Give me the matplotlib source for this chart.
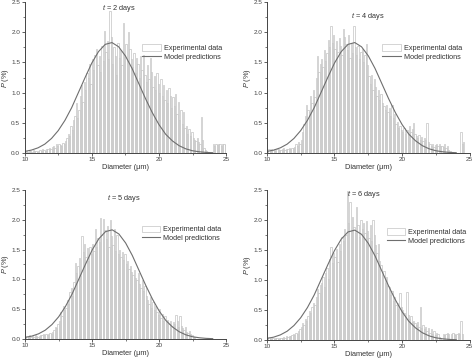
import numpy as np
import matplotlib
matplotlib.use("Agg")
import matplotlib.pyplot as plt

plt.rcParams['font.family'] = ['Liberation Sans', 'DejaVu Sans']
plt.rcParams['mathtext.fontset'] = 'custom'
plt.rcParams['mathtext.rm'] = 'Liberation Sans'
plt.rcParams['mathtext.it'] = 'Liberation Sans:italic'

# bin left edges: 10.0 .. 24.9 step 0.1 um
bins = np.round(np.arange(10.0, 25.0, 0.1), 1)

p_day2 = [
    0.02, 0.03, 0.02, 0.04, 0.03, 0.02, 0.05, 0.03, 0.04, 0.02,
    0.03, 0.05, 0.04, 0.06, 0.05, 0.04, 0.07, 0.06, 0.08, 0.07,
    0.10, 0.12, 0.09, 0.14, 0.11, 0.15, 0.13, 0.12, 0.16, 0.15,
    0.20, 0.25, 0.32, 0.28, 0.45, 0.38, 0.55, 0.62, 0.83, 0.58,
    0.72, 0.95, 1.12, 0.85, 1.18, 1.05, 1.32, 1.25, 1.48, 1.15,
    1.55, 1.38, 1.62, 1.72, 1.45, 1.60, 1.35, 1.78, 1.52, 2.02,
    1.68, 1.85, 1.55, 2.35, 1.92, 1.48, 1.75, 1.60, 1.30, 1.82,
    1.58, 1.70, 1.45, 2.15, 1.62, 1.80, 1.52, 2.00, 1.72, 1.55,
    1.42, 1.65, 1.32, 1.58, 1.48, 1.25, 1.60, 1.38, 1.62, 1.30,
    1.18, 1.45, 1.22, 1.58, 1.35, 1.10, 1.28, 1.05, 1.32, 1.15,
    1.00, 1.22, 0.95, 1.12, 0.88, 1.05, 0.82, 1.08, 0.95, 0.75,
    0.92, 0.78, 0.98, 0.65, 0.85, 0.55, 0.72, 0.48, 0.68, 0.42,
    0.45, 0.32, 0.40, 0.28, 0.35, 0.25, 0.22, 0.20, 0.24, 0.18,
    0.15, 0.60, 0.22, 0.08, 0.05, 0.03, 0.00, 0.00, 0.00, 0.00,
    0.14, 0.12, 0.15, 0.13, 0.14, 0.15, 0.12, 0.14, 0.15, 0.13,
]
p_day4 = [
    0.04, 0.06, 0.05, 0.07, 0.05, 0.06, 0.04, 0.07, 0.06, 0.05,
    0.05, 0.06, 0.08, 0.05, 0.07, 0.06, 0.08, 0.07, 0.09, 0.08,
    0.10, 0.14, 0.12, 0.18, 0.15, 0.22, 0.35, 0.48, 0.62, 0.80,
    0.72, 0.68, 0.95, 0.82, 1.05, 0.92, 1.25, 1.60, 1.35, 1.48,
    1.55, 1.42, 1.70, 1.52, 1.65, 1.88, 1.75, 2.10, 1.82, 1.95,
    1.72, 1.85, 1.68, 1.90, 1.78, 1.62, 2.06, 1.92, 1.80, 1.70,
    1.95, 1.58, 1.82, 1.65, 2.10, 1.75, 1.62, 1.78, 1.55, 1.68,
    1.72, 1.50, 1.62, 1.80, 1.45, 1.28, 1.15, 1.30, 1.05, 1.22,
    1.10, 0.95, 1.05, 0.88, 0.98, 0.82, 0.78, 0.72, 0.80, 0.68,
    0.75, 0.62, 0.80, 0.58, 0.65, 0.48, 0.52, 0.42, 0.45, 0.38,
    0.35, 0.42, 0.32, 0.38, 0.30, 0.45, 0.35, 0.40, 0.50, 0.32,
    0.28, 0.25, 0.30, 0.22, 0.26, 0.20, 0.24, 0.22, 0.50, 0.18,
    0.15, 0.12, 0.14, 0.10, 0.13, 0.15, 0.12, 0.14, 0.11, 0.12,
    0.10, 0.14, 0.08, 0.12, 0.05, 0.03, 0.00, 0.00, 0.00, 0.00,
    0.00, 0.00, 0.00, 0.35, 0.15, 0.18, 0.00, 0.00, 0.00, 0.00,
]
p_day5 = [
    0.03, 0.05, 0.04, 0.06, 0.03, 0.05, 0.04, 0.06, 0.05, 0.04,
    0.05, 0.07, 0.06, 0.08, 0.06, 0.09, 0.07, 0.08, 0.10, 0.09,
    0.12, 0.15, 0.20, 0.18, 0.25, 0.30, 0.45, 0.38, 0.55, 0.48,
    0.52, 0.65, 0.58, 0.78, 0.85, 0.72, 0.95, 1.28, 1.10, 1.22,
    1.35, 1.05, 1.72, 1.45, 1.60, 1.38, 1.52, 1.30, 1.55, 1.42,
    1.60, 1.48, 1.85, 1.55, 1.70, 1.62, 2.03, 1.75, 2.02, 1.82,
    1.68, 1.90, 1.55, 2.00, 1.72, 1.58, 1.85, 1.48, 1.75, 1.42,
    1.50, 1.38, 1.45, 1.32, 1.42, 1.25, 1.30, 1.18, 1.22, 1.12,
    1.08, 1.15, 1.02, 0.98, 1.10, 0.92, 0.85, 0.98, 0.80, 0.88,
    0.72, 0.65, 0.58, 0.70, 0.52, 0.62, 0.48, 0.55, 0.45, 0.40,
    0.50, 0.35, 0.42, 0.30, 0.38, 0.28, 0.32, 0.25, 0.30, 0.22,
    0.28, 0.25, 0.40, 0.30, 0.20, 0.38, 0.22, 0.18, 0.15, 0.20,
    0.12, 0.10, 0.14, 0.08, 0.06, 0.04, 0.03, 0.00, 0.00, 0.00,
    0.00, 0.00, 0.00, 0.00, 0.00, 0.00, 0.00, 0.00, 0.00, 0.00,
    0.00, 0.00, 0.00, 0.00, 0.00, 0.00, 0.00, 0.00, 0.00, 0.00,
]
p_day6 = [
    0.03, 0.05, 0.02, 0.04, 0.03, 0.02, 0.04, 0.03, 0.02, 0.03,
    0.04, 0.03, 0.05, 0.04, 0.06, 0.05, 0.07, 0.06, 0.08, 0.10,
    0.08, 0.12, 0.10, 0.15, 0.18, 0.22, 0.28, 0.25, 0.35, 0.32,
    0.40, 0.48, 0.45, 0.55, 0.62, 0.58, 0.72, 0.85, 0.78, 0.92,
    0.95, 1.05, 0.88, 1.12, 1.20, 1.02, 1.35, 1.55, 1.28, 1.45,
    1.38, 1.52, 1.30, 1.60, 1.48, 1.72, 1.65, 1.85, 1.75, 2.48,
    1.95, 2.30, 1.82, 2.05, 1.88, 1.78, 2.22, 1.92, 1.72, 2.00,
    1.85, 1.95, 1.78, 1.98, 1.82, 1.70, 1.92, 1.65, 2.00, 1.75,
    1.58, 1.45, 1.60, 1.32, 1.25, 1.08, 1.15, 0.95, 1.05, 0.90,
    0.88, 0.75, 0.82, 0.65, 0.72, 0.58, 0.62, 0.52, 0.78, 0.55,
    0.50, 0.45, 0.38, 0.80, 0.42, 0.35, 0.40, 0.30, 0.32, 0.28,
    0.25, 0.30, 0.22, 0.55, 0.20, 0.25, 0.18, 0.22, 0.15, 0.20,
    0.12, 0.18, 0.10, 0.15, 0.08, 0.12, 0.10, 0.05, 0.03, 0.00,
    0.10, 0.08, 0.10, 0.12, 0.10, 0.00, 0.10, 0.12, 0.10, 0.08,
    0.10, 0.12, 0.10, 0.32, 0.10, 0.00, 0.00, 0.00, 0.00, 0.00,
]

# model curve (same in all panels)
model_x = [10.0, 10.5, 11.0, 11.5, 12.0, 12.5, 13.0, 13.5, 14.0, 14.5,
           15.0, 15.5, 16.0, 16.5, 17.0, 17.5, 18.0, 18.5, 19.0, 19.5,
           20.0, 20.5, 21.0, 21.5, 22.0, 22.5, 23.0, 23.5, 24.0]
model_p = [0.025, 0.047, 0.085, 0.146, 0.24, 0.37, 0.54, 0.75, 1.00, 1.25,
           1.49, 1.68, 1.80, 1.83, 1.76, 1.61, 1.40, 1.15, 0.90, 0.67,
           0.47, 0.31, 0.20, 0.12, 0.068, 0.036, 0.019, 0.009, 0.004]

days = [2, 4, 5, 6]
series = [p_day2, p_day4, p_day5, p_day6]
axes_pos = [[0.052, 0.574, 0.425, 0.420],
            [0.563, 0.574, 0.428, 0.420],
            [0.053, 0.056, 0.424, 0.415],
            [0.563, 0.053, 0.428, 0.418]]
title_xy = [(17.05, 2.40), (17.5, 2.27), (17.4, 2.35), (17.2, 2.42)]
leg_xy = [(0.585, 0.72), (0.57, 0.72), (0.58, 0.76), (0.59, 0.745)]

fig = plt.figure(figsize=(4.74, 3.59), dpi=100)
for i in range(4):
    ax = fig.add_axes(axes_pos[i])
    bars = ax.bar(bins, series[i], width=0.1, align='edge', facecolor='white',
                  edgecolor='#bcbcbc', linewidth=0.45)
    line, = ax.plot(model_x, model_p, color='#6e6e6e', lw=0.8)
    ax.set_xlim(10, 25)
    ax.set_ylim(0, 2.5)
    ax.set_xticks([10, 15, 20, 25])
    ax.set_xticks([12.5, 17.5, 22.5], minor=True)
    ax.set_yticks(np.arange(0, 2.51, 0.5))
    ax.set_yticks(np.arange(0.25, 2.5, 0.5), minor=True)
    ax.yaxis.set_major_formatter(matplotlib.ticker.FormatStrFormatter('%.1f'))
    for s in ['top', 'right']:
        ax.spines[s].set_visible(False)
    for s in ['left', 'bottom']:
        ax.spines[s].set_color('#444444')
        ax.spines[s].set_linewidth(0.7)
    ax.tick_params(which='major', length=2.2, width=0.6, labelsize=4.6,
                   colors='#444444', pad=1.0)
    ax.tick_params(which='minor', length=1.4, width=0.5, colors='#444444')
    ax.set_xlabel('Diameter (μm)', fontsize=5.3, color='#333333', labelpad=1)
    ax.set_ylabel('$P$ (%)', fontsize=5.3, color='#333333')
    ax.yaxis.set_label_coords(-0.07, 0.5)
    ax.text(title_xy[i][0], title_xy[i][1], '$t$ = %d days' % days[i],
            fontsize=5.3, color='#333333', ha='center', va='center')
    ax.legend([bars, line], ['Experimental data', 'Model predictions'],
              loc='upper left', bbox_to_anchor=leg_xy[i], frameon=False,
              fontsize=5.2, handlelength=2.6, handleheight=1.0,
              borderpad=0, borderaxespad=0, labelspacing=0.15,
              handletextpad=0.4, labelcolor='#333333')

fig.savefig('out.png', dpi=100)
